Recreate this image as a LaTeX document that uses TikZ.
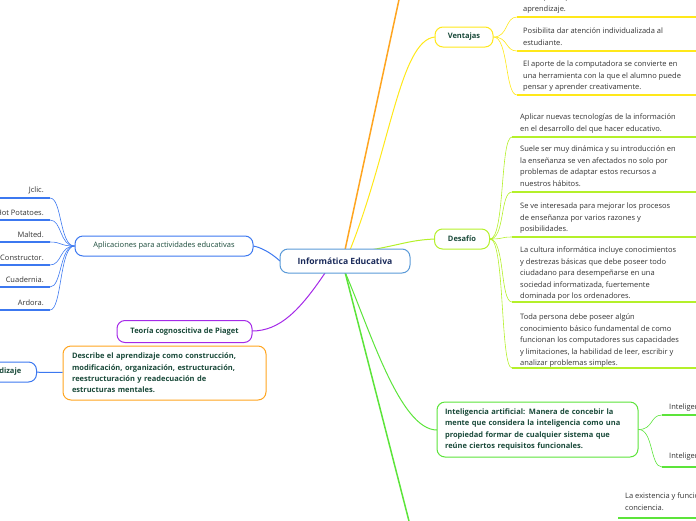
\documentclass[tikz,border=0pt]{standalone}
\usepackage{fontspec}
\setmainfont{Open Sans}
\begin{document}
\begin{tikzpicture}[x=1pt,y=-1pt,font=\fontsize{7.5}{11.4}\selectfont,
 box/.style={draw,rounded corners=8pt,line width=1pt,fill=white,inner sep=0pt,text=tdark},
 leaf/.style={anchor=north west,align=left,text=tgray,inner sep=0pt},
 ln/.style={line width=0.6pt}]
\definecolor{tdark}{HTML}{1A4A3A}\definecolor{tgray}{HTML}{333333}
\definecolor{cyel}{HTML}{FFE81A}\definecolor{clime}{HTML}{B4F02A}
\definecolor{cgrn}{HTML}{5CE43A}\definecolor{cblue}{HTML}{3C78F0}
\definecolor{cpur}{HTML}{A52AE8}\definecolor{corg}{HTML}{FFA520}
\definecolor{cnav}{HTML}{1A2A5A}\definecolor{cctr}{HTML}{5A9AD8}
\useasboundingbox (0,0) rectangle (696,520);
\clip (0,0) rectangle (696,520);
% lines from center
\coordinate (otop) at (400,-5);
\coordinate (gbot) at (410,525);
\draw[corg,line width=1.5pt] (345,250) -- (otop);
\draw[cgrn,line width=1.5pt] (345,272) -- (gbot);
\draw[cyel,line width=1pt] (350,250) .. controls (390,150) and (400,40) .. (435,37);
\draw[clime,line width=1pt] (370,250) .. controls (400,245) and (410,240) .. (435,239);
\draw[cgrn,line width=1pt] (345,272) .. controls (370,330) and (400,430) .. (437,430);
\draw[cblue,line width=1pt] (280,261) .. controls (270,252) and (260,247) .. (253,246);
\draw[cpur,line width=1pt] (325,273) .. controls (300,310) and (280,331) .. (252,331);
% center
\node[box,draw=cctr,text=cnav,minimum width=130pt,minimum height=24pt,font=\fontsize{8.6}{10}\selectfont\bfseries] (c) at (345,261) {Informática Educativa};
% Ventajas
\node[box,draw=cyel,minimum width=58pt,minimum height=20pt,font=\fontsize{7.5}{9}\selectfont\bfseries] (v) at (464,37) {Ventajas};
\foreach \y/\u in {17/a,51/b,95/c}{\coordinate (vu\u) at (517,\y);}
\foreach \u in {a,b,c}{\draw[cyel,ln] (v.east) .. controls +(15,0) and +(-12,0) .. (vu\u); \draw[cyel,line width=1.4pt] (vu\u) -- ++(180,0);}
\node[leaf] (v1) at (523,-6) {Estos participan activamente en el\\aprendizaje.};
\node[leaf] (v2) at (523,28) {Posibilita dar atención individualizada al\\estudiante.};
\node[leaf] (v3) at (523,61) {El aporte de la computadora se convierte en\\una herramienta con la que el alumno puede\\pensar y aprender creativamente.};
% Desafio
\node[box,draw=clime,minimum width=55pt,minimum height=20pt,font=\fontsize{7.5}{9}\selectfont\bfseries] (d) at (462,239) {Desafío};
\foreach \y/\u in {137/a,192/b,237/c,302/d,368/e}{\coordinate (du\u) at (512,\y);}
\foreach \u in {a,b,c,d,e}{\draw[clime,ln] (d.east) .. controls +(15,0) and +(-12,0) .. (du\u); \draw[clime,line width=1.4pt] (du\u) -- ++(190,0);}
\node[leaf] at (520,114) {Aplicar nuevas tecnologías de la información\\en el  desarrollo del que hacer educativo.};
\node[leaf] at (520,146) {Suele ser muy dinámica y su introducción en\\la enseñanza se ven afectados no solo por\\problemas de adaptar estos recursos a\\nuestros hábitos.};
\node[leaf] at (520,203) {Se ve interesada para mejorar los procesos\\de enseñanza por varios razones y\\posibilidades.};
\node[leaf] at (520,247) {La cultura informática incluye conocimientos\\y destrezas básicas que debe poseer todo\\ciudadano para desempeñarse en una\\sociedad informatizada, fuertemente\\dominada por los ordenadores.};
\node[leaf] at (520,314) {Toda persona debe poseer algún\\conocimiento básico fundamental de como\\funcionan los computadores sus capacidades\\y limitaciones, la habilidad de leer, escribir y\\analizar problemas simples.};
% IA
\node[box,draw=cgrn,minimum width=201pt,minimum height=55pt,font=\fontsize{7.5}{11.4}\selectfont\bfseries,align=left,text width=185pt] (ia) at (537.5,429.5) {Inteligencia artificial: Manera de concebir la\\mente que considera la inteligencia como una\\propiedad formar de cualquier sistema que\\reúne ciertos requisitos funcionales.};
\coordinate (iu1) at (662,415); \coordinate (iu2) at (662,467);
\foreach \u in {iu1,iu2}{\draw[cgrn,ln] (ia.east) .. controls +(15,0) and +(-12,0) .. (\u); \draw[cgrn,line width=1.4pt] (\u) -- ++(40,0);}
\node[leaf] at (669,404) {Inteligencia};
\node[leaf] at (669,453) {Inteligencia};
\coordinate (lu) at (618,518);
\draw[cgrn,line width=1.4pt] (lu) -- ++(80,0);
\node[leaf] at (625,493) {La existencia y funcionamiento de la\\conciencia.};
% Aplicaciones
\node[box,draw=cblue,minimum width=178pt,minimum height=20pt,font=\fontsize{7.5}{9}\selectfont] (ap) at (164,246) {Aplicaciones para actividades educativas};
\foreach \y/\t/\u in {198/Jclic./a,220/Hot Potatoes./b,242/Malted./c,265/Constructor./d,287/Cuadernia./e,310/Ardora./f}{
 \coordinate (au\u) at (50,\y);
 \draw[cblue,ln] (ap.west) .. controls +(-15,0) and +(12,0) .. (au\u);
 \draw[cblue,line width=1.4pt] (au\u) -- ++(-62,0);
 \node[anchor=south east,inner sep=0pt,text=tgray] at (44,\y-4) {\t};}
% Piaget
\node[box,draw=cpur,minimum width=135pt,minimum height=22pt,font=\fontsize{7.5}{9}\selectfont\bfseries] (pi) at (184.5,331.5) {Teoría cognoscitiva de Piaget};
% orange box
\node[box,draw=corg,minimum width=203pt,minimum height=54pt,font=\fontsize{7.5}{11.4}\selectfont\bfseries,align=left,text width=185pt] (ob) at (164.5,373) {Describe el aprendizaje como construcción,\\modificación, organización, estructuración,\\reestructuración y readecuación de\\estructuras mentales.};
\node[box,draw=cblue,minimum width=75pt,minimum height=20pt,font=\fontsize{7.5}{9}\selectfont\bfseries,anchor=east] (apr) at (37,372) {Aprendizaje};
\draw[cblue,line width=1pt] (apr) -- (ob);
\end{tikzpicture}
\end{document}
